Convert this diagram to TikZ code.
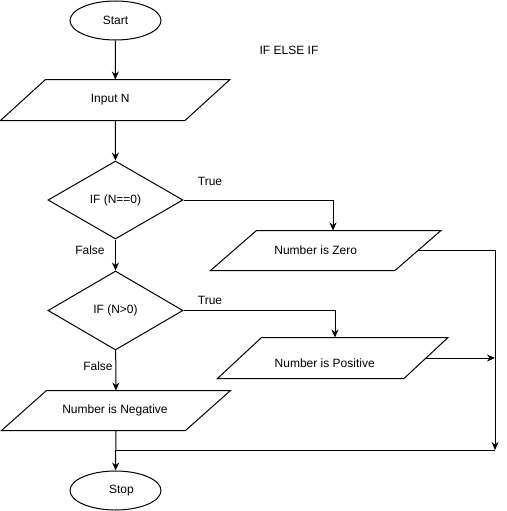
\documentclass[tikz,border=0pt]{standalone}
\usepackage{fontspec}
\setmainfont{Liberation Sans}
\usetikzlibrary{shapes.geometric,arrows.meta}
\begin{document}
\begin{tikzpicture}[x=1pt,y=-1pt,line width=1pt,
  every node/.style={font=\fontsize{12}{14}\selectfont},
  term/.style={draw,ellipse,minimum width=91pt,minimum height=39pt,inner sep=0pt},
  dec/.style={draw,diamond,aspect=1.73,inner sep=0pt,minimum width=135pt,minimum height=78pt},
  io/.style={draw=none,rectangle,inner sep=0pt,minimum height=39pt},
  lbl/.style={inner sep=0pt},
  arr/.style={-{Stealth[length=8pt,width=7pt]}}]
\fill[white] (0,0) rectangle (506,511);
\useasboundingbox (0,0) rectangle (506,511);

\node[term] (start) at (115.5,20.5) {Start};
\node[io,minimum width=183.5pt,minimum height=40pt,label={[lbl,xshift=-5pt]center:Input N}] (in) at (115.25,100) {};
\node[dec] (d1) at (115.5,200) {IF (N==0)};
\node[io,minimum width=183.5pt,label={[lbl,xshift=-10pt]center:Number is Zero}] (zero) at (325.75,250.5) {};
\node[dec,minimum height=79pt] (d2) at (115.5,310.5) {IF (N>0)};
\node[io,minimum width=185.5pt,minimum height=40pt,label={[lbl,xshift=-8pt,yshift=-5pt]center:Number is Positive}] (pos) at (332.75,358) {};
\node[io,minimum width=183pt,label={[lbl,xshift=-1pt]center:Number is Negative}] (neg) at (116,410.5) {};
\node[draw,ellipse,minimum width=91pt,minimum height=39pt,inner sep=0pt,label={[lbl,xshift=6pt]center:Stop}] (stop) at (115.5,490.5) {};

\node[lbl] (title) at (289,50) {IF ELSE IF};
\node[lbl] (t1) at (210,181) {True};
\node[lbl] (t2) at (210,300) {True};
\node[lbl] (f1) at (90,250) {False};
\node[lbl] (f2) at (98,366) {False};

% parallelograms
\draw ([xshift=22.5pt]in.north west) -- ([xshift=22.5pt]in.north east) -- ([xshift=-22.5pt]in.south east) -- ([xshift=-22.5pt]in.south west) -- cycle;
\draw ([xshift=23pt]zero.north west) -- ([xshift=23pt]zero.north east) -- ([xshift=-23pt]zero.south east) -- ([xshift=-23pt]zero.south west) -- cycle;
\draw ([xshift=22pt]pos.north west) -- ([xshift=22pt]pos.north east) -- ([xshift=-22pt]pos.south east) -- ([xshift=-22pt]pos.south west) -- cycle;
\draw ([xshift=22.5pt]neg.north west) -- ([xshift=22.5pt]neg.north east) -- ([xshift=-22.5pt]neg.south east) -- ([xshift=-22.5pt]neg.south west) -- cycle;

\coordinate (j) at (495,450);

\draw[arr] (start) -- (in);
\draw[arr] (in) -- (d1);
\draw[arr] (d1) -- (d2);
\draw[arr] (d2) -- (neg);
\draw[arr] (neg) -- (stop);
\draw[arr] (d1.east) -| ([xshift=7.25pt]zero.north);
\draw[arr] (d2.east) -| ([xshift=2.25pt]pos.north);
\draw[arr] (zero.east) -| (j);
\draw[arr] (pos.east) -- (pos.east -| j);
\draw (j) -- (neg.south |- j);
\end{tikzpicture}
\end{document}
